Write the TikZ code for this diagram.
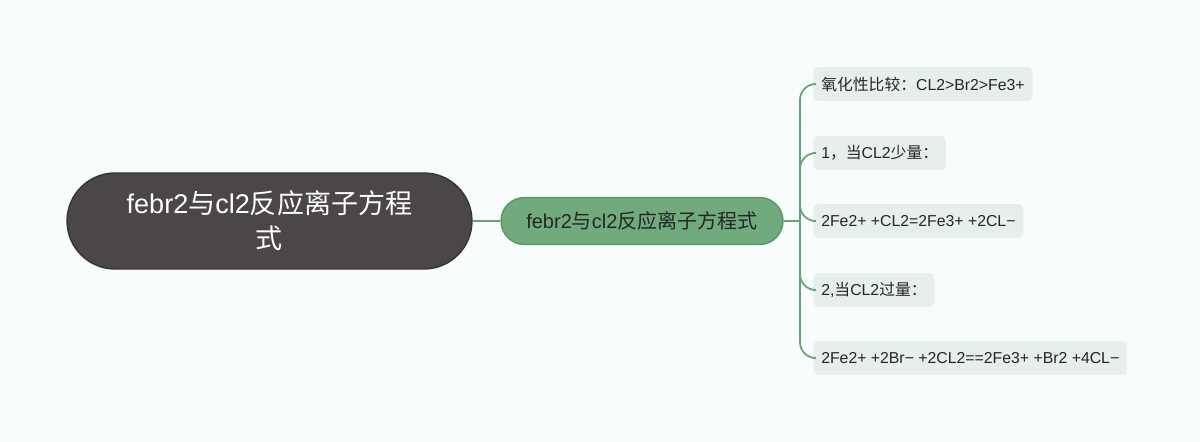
\documentclass[tikz,border=0pt]{standalone}
\usepackage{fontspec}
\setmainfont{Liberation Sans}
\newfontfamily\cjk{Noto Sans CJK SC}
\newcommand{\zh}[1]{{\cjk #1}}
\usetikzlibrary{positioning}

\definecolor{bgcol}{RGB}{248,252,252}
\definecolor{rootfill}{RGB}{75,71,71}
\definecolor{rootline}{RGB}{55,52,52}
\definecolor{mainfill}{RGB}{112,170,125}
\definecolor{mainline}{RGB}{88,150,102}
\definecolor{linkcol}{RGB}{104,162,118}
\definecolor{leaffill}{RGB}{230,239,233}

\begin{document}
\begin{tikzpicture}[x=0.02cm, y=-0.02cm,
        root/.style={draw=rootline, line width=0.8pt, fill=rootfill, rounded corners=0.96cm,
                minimum width=8.1cm, minimum height=1.92cm, text width=7cm, align=center,
                text=white, font=\fontsize{15.4}{20}\selectfont},
        topic/.style={draw=mainline, line width=0.8pt, fill=mainfill, rounded corners=0.47cm,
                minimum width=5.64cm, minimum height=0.94cm, text=black!85,
                font=\fontsize{11.4}{13}\selectfont},
        leaf/.style={fill=leaffill, rounded corners=3pt, minimum height=0.68cm,
                inner xsep=4.5pt, anchor=west, text=black!85, font=\fontsize{9}{11}\selectfont},
        link/.style={draw=linkcol, line width=1pt}]
        \fill[bgcol] (0,0) rectangle (1200,442);

        \node[root] (root) at (269.5,221) {febr2\zh{与}cl2\zh{反应离子方程}\\\zh{式}};
        \node[topic] (main) at (642,221) {febr2\zh{与}cl2\zh{反应离子方程式}};

        \node[leaf] (l1) at (813,84) {\zh{氧化性比较：}CL2>Br2>Fe3+};
        \node[leaf] (l2) at (813,153) {1\zh{，当}CL2\zh{少量：}};
        \node[leaf] (l3) at (813,221) {2Fe2+ +CL2=2Fe3+ +2CL−};
        \node[leaf] (l4) at (813,290) {2,\zh{当}CL2\zh{过量：}};
        \node[leaf] (l5) at (813,358) {2Fe2+ +2Br− +2CL2==2Fe3+ +Br2 +4CL−};

        \draw[link] (root) -- (main);
        \coordinate (fork) at (800,221);
        \draw[link] (main.east) -- (fork);
        \foreach \n in {l1,l2,l3,l4,l5} {
                \draw[link, rounded corners=9pt] (fork) |- (\n.west);
        }
\end{tikzpicture}
\end{document}
